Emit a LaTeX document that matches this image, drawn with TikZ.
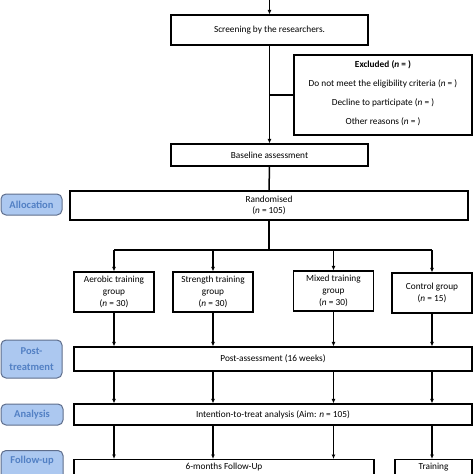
\documentclass[tikz,border=0pt]{standalone}
\usepackage{fontspec}
\setmainfont{Carlito}
\usetikzlibrary{arrows.meta}
\definecolor{labfill}{RGB}{172,200,240}
\definecolor{labdraw}{RGB}{95,110,140}
\definecolor{labtext}{RGB}{82,128,196}
\tikzset{
  box/.style={draw=black, line width=1.1pt, fill=white, inner sep=1pt, align=center,
              font=\fontsize{9.3}{11.8}\selectfont},
  plain/.style={draw=none, fill=none, inner sep=1pt, align=center,
              font=\fontsize{9.3}{11.8}\selectfont},
  lab/.style={draw=labdraw, line width=1pt, fill=labfill, rounded corners=5pt, align=center,
              text=labtext, inner sep=1pt, font=\fontsize{10.5}{16}\bfseries\selectfont},
  labtxt/.style={draw=none, fill=none, align=center,
              text=labtext, inner sep=1pt, font=\fontsize{10.5}{16}\bfseries\selectfont},
  conn/.style={line width=1.5pt, draw=black},
  arr/.style={conn, -{Latex[length=4.5pt,width=4pt]}}
}
\begin{document}
\begin{tikzpicture}[x=1pt,y=-1pt]
\useasboundingbox (0,0) rectangle (474,474);
\clip (0,0) rectangle (474,474);
% main boxes
\node[box, minimum width=197pt, minimum height=30pt] (scr) at (269.5,30) {Screening by the researchers.};
\node[box, minimum width=178pt, minimum height=80pt] (excl) at (383,95) {};
\node[plain, font=\fontsize{9.3}{19}\selectfont] (excltxt) at (383,93)
  {\textbf{Excluded (\textit{n} = )}\\Do not meet the eligibility criteria (\textit{n} = )\\Decline to participate (\textit{n} = )\\Other reasons (\textit{n} = )};
\node[box, minimum width=197pt, minimum height=22pt] (base) at (269.5,155) {Baseline assessment};
\node[box, minimum width=398pt, minimum height=29pt] (rand) at (269,205.5) {Randomised\\(\textit{n} = 105)};
\node[box, minimum width=80pt, minimum height=40pt] (aer) at (114,292) {Aerobic training\\group\\(\textit{n} = 30)};
\node[box, minimum width=80pt, minimum height=40pt] (str) at (213,292) {Strength training\\group\\(\textit{n} = 30)};
\node[box, minimum width=80pt, minimum height=40pt] (mix) at (333.5,291) {Mixed training\\group\\(\textit{n} = 30)};
\node[box, minimum width=80pt, minimum height=40pt] (ctl) at (432,293) {Control group\\(\textit{n} = 15)};
\node[box, minimum width=398pt, minimum height=24pt] (post) at (273,359) {Post-assessment (16 weeks)};
\node[box, minimum width=398pt, minimum height=21pt] (itt) at (273,414.5) {Intention-to-treat analysis (Aim: \textit{n} = 105)};
\node[box, minimum width=300pt, minimum height=40pt, anchor=north] (fu) at (224,459) {};
\node[plain, anchor=north] (futext) at (224,462) {6-months Follow-Up};
\node[box, minimum width=77pt, minimum height=40pt, anchor=north] (trn) at (433.5,459) {};
\node[plain, anchor=north] (trntext) at (433.5,462) {Training};
% side labels
\node[lab, minimum width=61pt, minimum height=21pt] (alloc) at (31.5,204.5) {Allocation};
\node[lab, minimum width=61pt, minimum height=38pt] (postt) at (31.5,359) {Post-\\treatment};
\node[lab, minimum width=62pt, minimum height=21pt] (anal) at (32,414.5) {Analysis};
\node[lab, minimum width=62pt, minimum height=40pt, anchor=north] (follow) at (32,450) {};
\node[labtxt, anchor=north] (followt) at (32,455) {Follow-up};
% connectors
\coordinate (top) at (269.5,-5);
\draw[arr] (top) -- (scr.north);
\draw[arr] (scr.south) -- (base.north);
\draw[conn] (excl.west) -- (excl.west -| scr.south);
\draw[conn] (base.south) -- (rand.north);
\coordinate (split) at (269,250);
\draw[conn] (rand.south) -- (split);
\draw[conn] (aer.north |- split) -- (ctl.north |- split);
\foreach \g in {aer,str,mix,ctl}{
  \draw[arr] (\g.north |- split) -- (\g.north);
  \draw[arr] (\g.south) -- (\g.south |- post.north);
  \draw[arr] (\g.south |- post.south) -- (\g.south |- itt.north);
}
\foreach \g in {aer,str,mix}{
  \draw[arr] (\g.south |- itt.south) -- (\g.south |- fu.north);
}
\draw[arr] (ctl.south |- itt.south) -- (ctl.south |- trn.north);
\end{tikzpicture}
\end{document}
